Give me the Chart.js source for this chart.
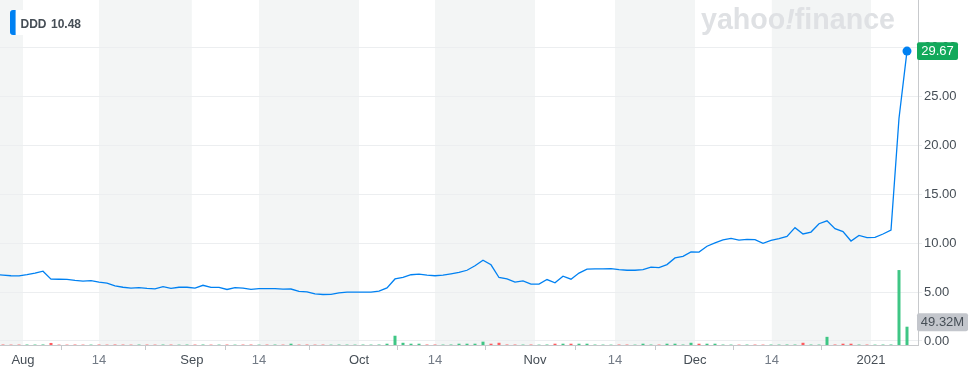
<!DOCTYPE html>
<html><head><meta charset="utf-8">
<script src="https://cdn.jsdelivr.net/npm/chart.js@4.4.1/dist/chart.umd.min.js"></script>
<style>html,body{margin:0;padding:0;background:#fff;overflow:hidden}canvas{display:block}</style>
</head><body>
<canvas id="c" width="973" height="375"></canvas>
<script>
// ---- data ----
const symbol = "DDD";
const legendValue = "10.48";
const prices = [6.8,
 6.75,6.68,6.67,6.8,6.95,7.14,6.33,6.32,6.3,6.2,
 6.13,6.18,6.02,5.92,5.65,5.5,5.42,5.47,5.38,5.34,
 5.56,5.38,5.5,5.5,5.42,5.7,5.48,5.48,5.27,5.47,
 5.41,5.28,5.36,5.35,5.36,5.3,5.32,5.08,5.03,4.83,
 4.76,4.77,4.92,5.0,5.0,5.0,5.0,5.1,5.44,6.35,
 6.5,6.78,6.84,6.75,6.68,6.75,6.88,7.02,7.24,7.7,
 8.27,7.8,6.5,6.36,6.02,6.15,5.82,5.82,6.29,5.95,
 6.63,6.33,6.95,7.35,7.38,7.38,7.4,7.3,7.24,7.24,
 7.3,7.55,7.5,7.82,8.5,8.67,9.11,9.1,9.7,10.05,
 10.35,10.5,10.32,10.4,10.38,10.0,10.3,10.47,10.7,11.6,
 10.95,11.15,12.0,12.3,11.5,11.2,10.23,10.8,10.58,10.6,
 10.95,11.35,22.8,29.67];
const volumesM = [1.1,
 1.2,1.0,1.1,1.3,1.2,1.4,5.5,1.1,1.0,1.2,
 1.0,1.1,1.2,1.0,1.3,1.1,1.0,1.2,1.1,1.0,
 1.2,1.1,1.0,1.2,1.1,1.3,1.0,1.1,1.2,1.0,
 1.1,1.2,1.0,1.1,1.2,1.0,3.5,1.1,1.2,1.0,
 1.1,1.0,1.2,1.1,1.0,1.2,1.1,1.3,3.5,25,
 6,3.5,3.5,1.3,1.2,1.1,1.3,3.5,3.5,3.5,
 9,3.5,6,1.3,1.2,1.1,1.2,1.0,1.3,3.5,
 3.5,3.5,3.5,3.5,1.2,1.1,1.0,1.2,1.1,1.0,
 3.5,1.2,1.1,3.5,3.5,1.2,6,3.5,3.5,3.5,
 1.2,1.1,1.0,1.2,1.1,1.0,1.2,1.1,1.3,1.2,
 6,1.2,1.1,22,1.3,3.5,3.5,1.2,1.1,1.0,
 1.2,1.3,202,49.32];
const tickLabels = ["Aug","14","Sep","14","Oct","14","Nov","14","Dec","14","2021"];
const tickPositions = [3.5,13,24.6,33,45.5,55,67.5,77.5,87.5,97.1,109.5];
const priceTicks = [0,5,10,15,20,25,30];

// ---- styling ----
const FONT = "'Liberation Sans', Arial, Helvetica, sans-serif";
Chart.defaults.font.family = FONT;
const BLUE = '#0081f2', GREEN = '#3fc685', RED = '#ff5a5f';
const lastIdx = prices.length - 1;

const priceData = prices.map((v, i) => ({x: i, y: v}));
const volData = volumesM.map((v, i) => ({x: i, y: v}));
const volColors = volumesM.map((v, i) => (i > 0 && prices[i] < prices[i-1]) ? RED : GREEN);

const decor = {
  id: 'decor',
  beforeDraw(chart) {
    const {ctx, chartArea: a, scales: {x}} = chart;
    ctx.save();
    ctx.fillStyle = '#fff';
    ctx.fillRect(0, 0, chart.width, chart.height);
    ctx.fillStyle = '#f3f5f5';
    const bands = [[x.min, tickPositions[0]]];
    for (let k = 1; k + 1 < tickPositions.length; k += 2) bands.push([tickPositions[k], tickPositions[k+1]]);
    bands.forEach(([s, e]) => {
      const p0 = Math.max(a.left, x.getPixelForValue(s));
      const p1 = Math.min(a.right, x.getPixelForValue(e));
      ctx.fillRect(p0, a.top, p1 - p0, a.bottom - a.top);
    });
    // watermark
    ctx.fillStyle = '#dfe1e4';
    ctx.textBaseline = 'alphabetic';
    ctx.font = "bold 30px " + FONT;
    const w1 = ctx.measureText('yahoo').width;
    ctx.font = "italic bold 30px " + FONT;
    const w2 = ctx.measureText('!').width;
    ctx.font = "bold 30px " + FONT;
    const w3 = ctx.measureText('finance').width;
    const sc = 194 / (w1 + w2 + w3);
    ctx.translate(701, 29);
    ctx.scale(sc, 1);
    ctx.fillText('yahoo', 0, 0);
    ctx.font = "italic bold 30px " + FONT;
    ctx.fillText('!', w1, 0);
    ctx.font = "bold 30px " + FONT;
    ctx.fillText('finance', w1 + w2, 0);
    ctx.restore();
  },
  afterDraw(chart) {
    const {ctx, chartArea: a, scales: {y, yVol}} = chart;
    ctx.save();
    // legend
    ctx.fillStyle = '#fff';
    ctx.fillRect(10, 10, 76, 25);
    ctx.fillStyle = BLUE;
    ctx.beginPath();
    ctx.roundRect(10, 10, 5.6, 25, [3, 0, 0, 3]);
    ctx.fill();
    ctx.fillStyle = '#464e56';
    ctx.font = "bold 12px " + FONT;
    ctx.textBaseline = 'alphabetic';
    ctx.textAlign = 'left';
    ctx.fillText(symbol, 20.5, 28);
    ctx.fillText(legendValue, 51, 28);
    // price badge
    const py = y.getPixelForValue(prices[lastIdx]);
    ctx.fillStyle = '#12a95b';
    ctx.beginPath();
    ctx.roundRect(a.right - 1, py - 8.8, 41, 17.6, 2);
    ctx.fill();
    ctx.fillStyle = '#fff';
    ctx.font = "13px " + FONT;
    ctx.textAlign = 'center';
    ctx.textBaseline = 'middle';
    ctx.fillText(prices[lastIdx].toFixed(2), a.right + 19.5, py + 0.5);
    // volume badge
    const vy = yVol.getPixelForValue(volumesM[lastIdx]) - 4.5;
    ctx.fillStyle = '#c3c6cc';
    ctx.beginPath();
    ctx.roundRect(a.right - 1, vy - 9, 51, 18, 2);
    ctx.fill();
    ctx.fillStyle = '#464e56';
    ctx.fillText(volumesM[lastIdx].toFixed(2) + 'M', a.right + 24.5, vy + 0.5);
    ctx.restore();
  }
};

function noPad(s) { s.paddingTop = 0; s.paddingBottom = 0; s.paddingLeft = 0; s.paddingRight = 0; }

new Chart(document.getElementById('c'), {
  type: 'bar',
  data: {
    datasets: [
      {
        type: 'line', data: priceData, yAxisID: 'y', xAxisID: 'x',
        borderColor: BLUE, borderWidth: 1.3, tension: 0, order: 0,
        pointRadius: ctx => ctx.dataIndex === lastIdx ? 4.5 : 0,
        pointBackgroundColor: BLUE, pointBorderWidth: 0, pointHoverRadius: 0
      },
      {
        type: 'bar', data: volData, yAxisID: 'yVol', xAxisID: 'x',
        backgroundColor: volColors, borderWidth: 0,
        barPercentage: 0.375, categoryPercentage: 1, order: 1
      }
    ]
  },
  options: {
    responsive: false, animation: false, devicePixelRatio: 1,
    layout: {autoPadding: false, padding: 0},
    plugins: {legend: {display: false}, tooltip: {enabled: false}},
    scales: {
      x: {
        type: 'linear', position: 'bottom', min: 0.625, max: 115.375, offset: false,
        afterFit: s => { s.height = 30; noPad(s); },
        afterBuildTicks: s => { s.ticks = tickPositions.map(v => ({value: v})); },
        grid: {drawOnChartArea: false, tickLength: 5, color: '#c7c9cc'},
        border: {color: '#c7c9cc'},
        ticks: {
          autoSkip: false, maxRotation: 0, padding: 3,
          font: {size: 13},
          callback: (v, i) => tickLabels[i],
          color: c => (tickLabels[c.index] === '14') ? '#737b86' : '#464e56'
        }
      },
      y: {
        type: 'linear', position: 'right', min: -0.41, max: 34.9,
        afterFit: s => { s.width = 55; noPad(s); },
        afterBuildTicks: s => { s.ticks = priceTicks.map(v => ({value: v})); },
        grid: {color: '#eceef0', tickLength: 4},
        border: {color: '#c7c9cc'},
        ticks: {padding: 2, font: {size: 13}, color: '#464e56', callback: v => Number(v).toFixed(2)}
      },
      yVol: {
        type: 'linear', display: false, min: 0, max: 930, position: 'right'
      }
    }
  },
  plugins: [decor]
});
</script>
</body></html>
